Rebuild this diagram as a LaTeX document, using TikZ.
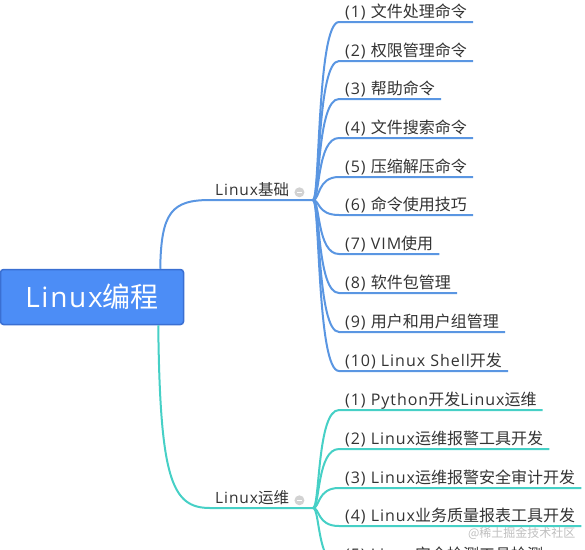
\documentclass[tikz,border=0pt]{standalone}
\usepackage{fontspec}
\setmainfont{Open Sans}[LetterSpace=6]
\newfontfamily\zh{Noto Sans CJK SC}
\usetikzlibrary{positioning,calc}
\definecolor{rootfill}{HTML}{4C8DF6}
\definecolor{rootline}{HTML}{3A6FD2}
\definecolor{basecol}{HTML}{5A96E2}
\definecolor{opscol}{HTML}{46D0C6}
\definecolor{txtcol}{HTML}{333333}
\begin{document}
\begin{tikzpicture}[x=1pt, y=-1pt,
    root/.style={rectangle, rounded corners=3pt, fill=rootfill, draw=rootline, line width=1.5pt,
      minimum width=183pt, minimum height=55pt, text=white, font=\fontsize{28}{32}\selectfont},
    branch/.style={inner xsep=5pt, inner ysep=2pt, text=txtcol, text height=0.9em, text depth=0.2em,
      font=\fontsize{15.5}{18}\selectfont},
    item/.style={anchor=south west, inner xsep=6pt, inner ysep=2pt, text=txtcol, text height=0.9em,
      text depth=0.2em, font=\fontsize{16}{18}\selectfont},
    fold/.style={circle, fill=gray!35, minimum size=10pt, inner sep=0pt,
      path picture={\draw[white, line width=1.3pt] ($(path picture bounding box.west)+(2.5,0)$) -- ($(path picture bounding box.east)+(-2.5,0)$);}},
    basebr/.style={draw=basecol, line width=2pt},
    opsbr/.style={draw=opscol, line width=2pt}]
    \useasboundingbox (0,0) rectangle (585,549);
    \clip (0,0) rectangle (585,549);

    % Root
    \node[root] (root) at (92,297) {Linux{\zh 编程}};

    % Branch: Linux基础
    \node[branch, anchor=south west] (base) at (210,200) {Linux{\zh 基础}};
    \node[fold, right=0pt of base] (basefold) {};
    \coordinate (basej) at (313,200);
    \draw[basebr] ($(root.north east)+(-24,0)$) .. controls (161,212) and (172,200) .. (base.south west) -- (basej);

    \node[item] (b1) at (339,22) {(1) {\zh 文件处理命令}};
    \node[item] (b2) at (339,61) {(2) {\zh 权限管理命令}};
    \node[item] (b3) at (339,99) {(3) {\zh 帮助命令}};
    \node[item] (b4) at (339,138) {(4) {\zh 文件搜索命令}};
    \node[item] (b5) at (339,177) {(5) {\zh 压缩解压命令}};
    \node[item] (b6) at (339,215) {(6) {\zh 命令使用技巧}};
    \node[item] (b7) at (339,254) {(7) VIM{\zh 使用}};
    \node[item] (b8) at (339,293) {(8) {\zh 软件包管理}};
    \node[item] (b9) at (339,332) {(9) {\zh 用户和用户组管理}};
    \node[item] (b10) at (339,371) {(10) Linux Shell{\zh 开发}};
    \foreach \n in {b1,b2,b3,b4,b5,b6,b7,b8,b9,b10}
      \draw[basebr] (basej) .. controls +(7,0) and +(-22,0) .. (\n.south west) -- (\n.south east);

    % Branch: Linux运维
    \node[branch, anchor=south west] (ops) at (210,508) {Linux{\zh 运维}};
    \node[fold, right=0pt of ops] (opsfold) {};
    \coordinate (opsj) at (313,508);
    \draw[opsbr] ($(root.south east)+(-26,0)$) .. controls (160,480) and (172,508) .. (ops.south west) -- (opsj);

    \node[item] (o1) at (339,410) {(1) Python{\zh 开发}Linux{\zh 运维}};
    \node[item] (o2) at (339,449) {(2) Linux{\zh 运维报警工具开发}};
    \node[item] (o3) at (339,488) {(3) Linux{\zh 运维报警安全审计开发}};
    \node[item] (o4) at (339,526) {(4) Linux{\zh 业务质量报表工具开发}};
    \node[item] (o5) at (339,565) {(5) Linux{\zh 安全检测工具检测}};
    \foreach \n in {o1,o2,o3,o4,o5}
      \draw[opsbr] (opsj) .. controls +(7,0) and +(-22,0) .. (\n.south west) -- (\n.south east);

    % Watermark
    \node[text=gray!50, font=\zh\fontsize{12}{14}\selectfont, anchor=east] (mark) at (579,533) {@稀土掘金技术社区};
\end{tikzpicture}
\end{document}
